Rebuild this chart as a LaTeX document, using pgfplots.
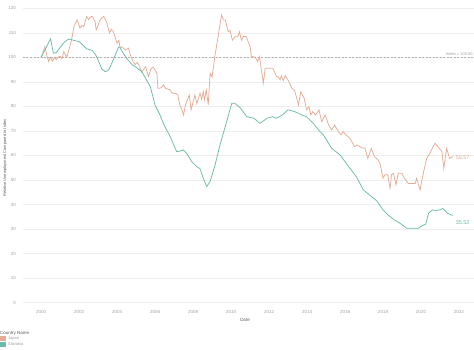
\documentclass[border=0pt]{standalone}
\usepackage{pgfplots}
\pgfplotsset{compat=1.18}
\usepackage{fontspec}
\setmainfont{Liberation Sans}
\definecolor{japan}{RGB}{228,172,150}
\definecolor{slovakia}{RGB}{108,186,168}
\definecolor{gridc}{RGB}{238,238,238}
\definecolor{tickc}{RGB}{160,160,160}
\definecolor{labc}{RGB}{90,90,90}
\begin{document}
\begin{tikzpicture}[x=1pt,y=1pt]
\useasboundingbox (0,0) rectangle (474,349);
\begin{axis}[
  at={(23pt,43pt)}, anchor=south west,
  scale only axis, width=451pt, height=303pt,
  xmin=1999.05, xmax=2022.79, ymin=-1.43, ymax=122.2,
  xtick={2000,2002,...,2022}, ytick={0,10,...,120},
  /pgf/number format/1000 sep={},
  /pgf/number format/assume math mode=true,
  axis line style={draw=none},
  major tick length=0pt,
  ymajorgrids, grid style={gridc, line width=0.5pt},
  tick label style={font=\fontsize{4.5}{5}\selectfont, text=tickc},
  yticklabel style={xshift=-3.5pt},
  xticklabel style={yshift=-1pt},
  clip=false,
]
\addplot[color=gray!60, line width=0.5pt, dash pattern=on 2pt off 1.5pt, forget plot] coordinates {(1999.05,100) (2022.79,100)};
\addplot[japan, line width=0.75pt] coordinates {
(2000.00,100) (2000.1,102) (2000.2,104.4) (2000.3,101) (2000.4,98.3) (2000.5,100) (2000.6,98.5) (2000.7,100) (2000.8,99) (2000.9,100)
(2001.0,100.5) (2001.1,99.5) (2001.2,102.4) (2001.35,100) (2001.5,104) (2001.6,107) (2001.75,113) (2001.9,115.3)
(2002.05,112) (2002.15,113) (2002.25,112.6) (2002.4,116.7) (2002.5,115.5) (2002.6,116.5) (2002.7,116.7) (2002.85,114.5) (2002.9,111.2)
(2003.0,113) (2003.1,115.3) (2003.3,116.7) (2003.45,114.5) (2003.6,110) (2003.7,111.5) (2003.8,110.6)
(2004.0,105.8) (2004.1,107) (2004.15,104.4) (2004.3,104) (2004.45,103) (2004.6,103.8) (2004.7,101) (2004.8,99) (2004.95,97)
(2005.05,98) (2005.15,97) (2005.3,94) (2005.5,96.2) (2005.65,92.2) (2005.8,95.6) (2005.9,96)
(2006.0,95) (2006.1,93.5) (2006.15,87.4) (2006.3,87.5) (2006.45,88.8) (2006.55,87.4) (2006.7,87) (2006.8,86.7) (2006.9,85.4)
(2007.1,85.3) (2007.2,84.7) (2007.3,80.6) (2007.4,79) (2007.5,76.5) (2007.6,80.6) (2007.8,84.7) (2007.9,78.6)
(2008.1,84.7) (2008.2,81.2) (2008.37,85.4) (2008.45,83) (2008.54,86) (2008.6,82.6) (2008.7,86.7) (2008.8,80.6) (2008.9,93.5)
(2009.0,92) (2009.16,101) (2009.33,109) (2009.5,117.3) (2009.6,115.3) (2009.7,115.3) (2009.85,110.5) (2009.95,111)
(2010.07,107) (2010.2,108.4) (2010.35,108.4) (2010.44,110.5) (2010.55,107) (2010.65,108.5) (2010.8,108.5)
(2011.0,104.4) (2011.08,100.3) (2011.2,100.3) (2011.3,99.6) (2011.4,98.3) (2011.5,100.3) (2011.7,89.5) (2011.8,95.6)
(2012.0,95.6) (2012.2,95.6) (2012.4,92.2) (2012.5,92) (2012.58,90.8) (2012.65,92.5) (2012.75,90.5) (2012.85,92.5)
(2013.0,90.8) (2013.2,87.4) (2013.35,86.5) (2013.55,80.6) (2013.67,86) (2013.85,83.3) (2013.98,78.6)
(2014.1,80) (2014.2,76.5) (2014.3,77.9) (2014.45,76.5) (2014.63,78.6) (2014.77,73.8) (2014.96,76.5)
(2015.14,72.4) (2015.3,70.4) (2015.45,72.4) (2015.65,69.7) (2015.8,68.4) (2015.9,69.7)
(2016.05,68.4) (2016.26,67) (2016.5,63.6) (2016.65,64.3) (2016.9,63)
(2017.05,63) (2017.2,58.8) (2017.38,62.9) (2017.55,59.5) (2017.75,58.1) (2017.84,56.8)
(2018.0,50.7) (2018.1,52.1) (2018.25,52.1) (2018.37,46.6) (2018.45,52.1) (2018.55,52.7) (2018.68,48) (2018.8,52.7)
(2019.0,52.7) (2019.1,51) (2019.33,48.6) (2019.5,48.6) (2019.7,48.6) (2019.77,50.7) (2019.95,45.9)
(2020.1,52) (2020.3,58.8) (2020.47,60.9) (2020.6,63) (2020.74,65) (2020.9,63.5)
(2021.1,61.6) (2021.2,54.8) (2021.35,62.9) (2021.5,58.8) (2021.7,59.57)
};
\addplot[slovakia, line width=0.75pt] coordinates {
(2000.0,100) (2000.2,103) (2000.5,107.6) (2000.65,101.7) (2000.8,102) (2001.0,104) (2001.2,106) (2001.35,107) (2001.5,107.5) (2001.8,106.8)
(2002.0,106.5) (2002.2,105) (2002.4,103.5) (2002.7,102.8) (2002.9,100.7) (2003.2,95.3) (2003.37,94.2) (2003.5,94.5) (2003.6,95.5) (2003.8,99)
(2004.07,104) (2004.15,104.2) (2004.3,102) (2004.5,99.7) (2004.8,97) (2005.0,96) (2005.3,94.2) (2005.5,91.5) (2005.75,88.1)
(2006.0,80.6) (2006.26,76.5) (2006.5,72) (2006.8,67.7) (2007.14,61.5) (2007.5,62.2) (2007.7,60.5) (2007.93,57.5)
(2008.2,55.4) (2008.37,54.6) (2008.54,50.7) (2008.72,47.3) (2008.9,49.4) (2009.16,56.1) (2009.42,64.3) (2009.77,73.8)
(2010.04,81.3) (2010.2,81.3) (2010.5,79.3) (2010.83,75.8) (2011.2,75.2) (2011.53,73.1) (2011.9,75.2)
(2012.2,75.8) (2012.4,75.2) (2012.7,76.5) (2013.0,78.6) (2013.35,77.9) (2013.72,76.5) (2013.98,75.8)
(2014.33,73.1) (2014.68,69.7) (2014.86,68.4) (2015.3,62.9) (2015.74,60.2) (2016.2,55.4) (2016.6,51.3) (2016.96,46)
(2017.3,43.8) (2017.67,41.5) (2018.0,37.8) (2018.3,35.5) (2018.6,33.7) (2018.9,32.3) (2019.25,30.3) (2019.86,30.3)
(2020.1,31.5) (2020.25,32) (2020.4,36.4) (2020.6,37.8) (2020.8,37.5) (2021.0,37.8) (2021.15,38.4) (2021.4,36.4) (2021.67,35.52)
};
\node[anchor=south east, font=\fontsize{4}{4.5}\selectfont, text=tickc, inner sep=0.5pt] at (axis cs:2022.75,100.6) {Index = 100.00};
\node[anchor=west, font=\fontsize{5.5}{6}\selectfont, text=japan, inner sep=0pt] at (axis cs:2021.82,59.0) {59.57};
\node[anchor=west, font=\fontsize{5.5}{6}\selectfont, text=slovakia, inner sep=0pt] at (axis cs:2021.82,32.6) {35.52};
\end{axis}
\node[rotate=90, font=\fontsize{4}{4.5}\selectfont, text=labc] at (5,191) {Relative Unemployment Compared to Index};
\node[font=\fontsize{4.5}{5}\selectfont, text=labc] at (245,29) {Date};
\node[anchor=west, font=\fontsize{4.5}{5}\selectfont, text=labc, inner sep=0pt] at (0,16) {Country Name};
\fill[japan] (0,8) rectangle (6,13);
\fill[slovakia] (0,2) rectangle (6,7);
\node[anchor=west, font=\fontsize{4}{4.5}\selectfont, text=tickc, inner sep=0pt] at (8,10.5) {Japan};
\node[anchor=west, font=\fontsize{4}{4.5}\selectfont, text=tickc, inner sep=0pt] at (8,4.5) {Slovakia};
\end{tikzpicture}
\end{document}
